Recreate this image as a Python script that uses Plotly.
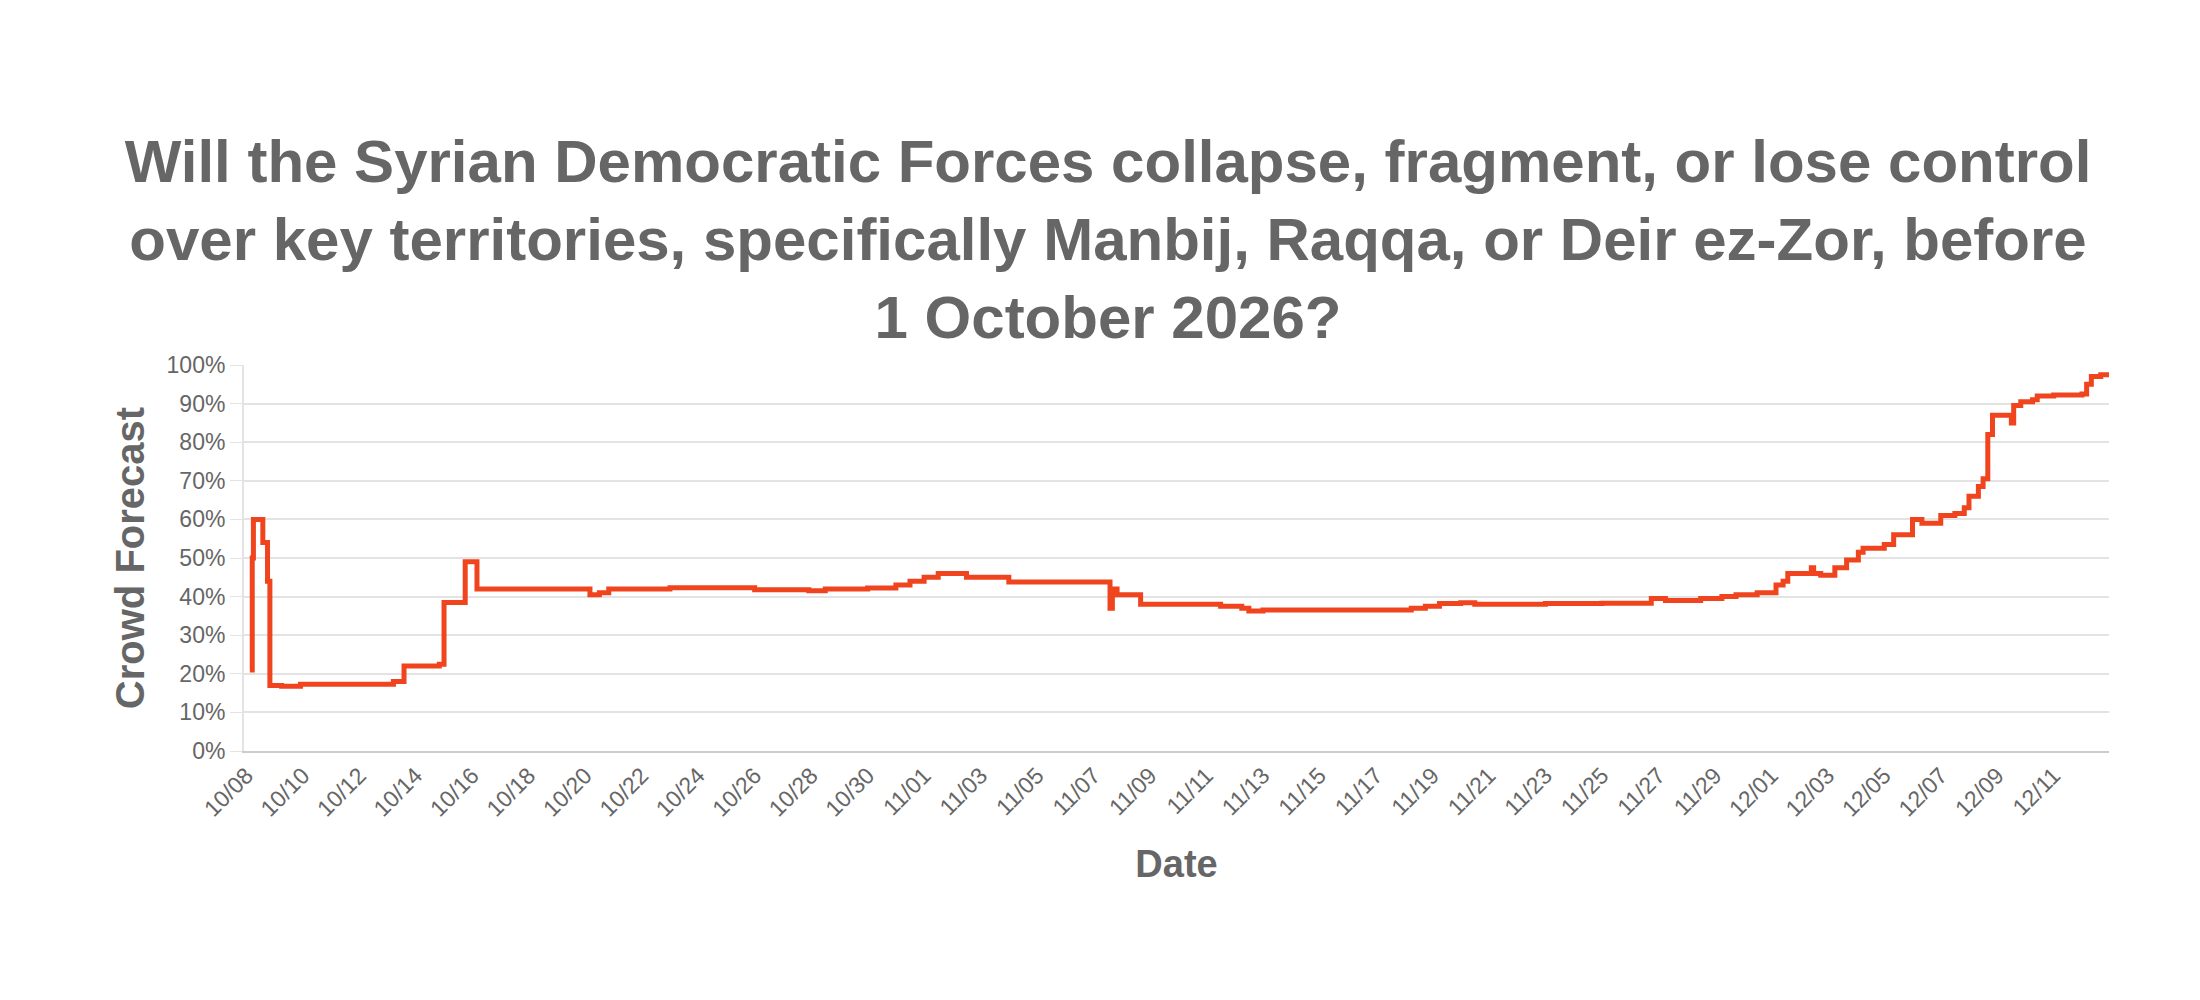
import plotly.graph_objects as go

# Crowd forecast step series (timestamps, percent)
dates = [
    '2025-10-08 03:00', '2025-10-08 05:00', '2025-10-08 06:00', '2025-10-08 14:00', '2025-10-08 18:00',
    '2025-10-08 20:00', '2025-10-09 06:00', '2025-10-09 22:00', '2025-10-13 05:00', '2025-10-13 14:00',
    '2025-10-14 20:00', '2025-10-15 00:00', '2025-10-15 18:00', '2025-10-16 04:00', '2025-10-20 04:00',
    '2025-10-20 12:00', '2025-10-20 20:00', '2025-10-23 00:00', '2025-10-26 00:00', '2025-10-27 22:00',
    '2025-10-28 12:00', '2025-10-30 00:00', '2025-10-31 00:00', '2025-10-31 12:00', '2025-11-01 00:00',
    '2025-11-01 12:00', '2025-11-02 12:00', '2025-11-04 00:00', '2025-11-07 12:00', '2025-11-07 14:00',
    '2025-11-07 16:00', '2025-11-07 20:00', '2025-11-08 16:00', '2025-11-11 12:00', '2025-11-12 06:00',
    '2025-11-12 12:00', '2025-11-13 00:00', '2025-11-18 06:00', '2025-11-18 18:00', '2025-11-19 06:00',
    '2025-11-20 00:00', '2025-11-20 12:00', '2025-11-23 00:00', '2025-11-25 00:00', '2025-11-26 18:00',
    '2025-11-27 06:00', '2025-11-28 12:00', '2025-11-29 06:00', '2025-11-29 18:00', '2025-11-30 12:00',
    '2025-12-01 04:00', '2025-12-01 10:00', '2025-12-01 14:00', '2025-12-02 10:00', '2025-12-02 12:00',
    '2025-12-02 18:00', '2025-12-03 06:00', '2025-12-03 16:00', '2025-12-04 02:00', '2025-12-04 06:00',
    '2025-12-05 00:00', '2025-12-05 08:00', '2025-12-06 00:00', '2025-12-06 08:00', '2025-12-07 00:00',
    '2025-12-07 12:00', '2025-12-07 20:00', '2025-12-08 00:00', '2025-12-08 08:00', '2025-12-08 12:00',
    '2025-12-08 16:00', '2025-12-08 20:00', '2025-12-09 12:00', '2025-12-09 14:00', '2025-12-09 20:00',
    '2025-12-10 06:00', '2025-12-10 10:00', '2025-12-11 00:00', '2025-12-12 00:00', '2025-12-12 04:00',
    '2025-12-12 08:00', '2025-12-12 16:00', '2025-12-12 23:00',
]
forecast = [
    21, 50, 60, 54, 44,
    17, 16.8, 17.3, 18, 22,
    22.5, 38.5, 49, 42, 40.5,
    41, 42, 42.3, 41.8, 41.5,
    42, 42.2, 43, 44, 45,
    46, 45, 43.8, 43.8, 37,
    42, 40.5, 38, 37.5, 37,
    36.3, 36.5, 37, 37.5, 38.2,
    38.4, 38, 38.2, 38.3, 39.5,
    39, 39.5, 40, 40.5, 41,
    43, 44, 46, 47.5, 46,
    45.5, 47.5, 49.5, 51.5, 52.5,
    53.5, 56, 60, 59, 61,
    61.5, 63, 66, 68.5, 70.5,
    82, 87, 85, 89.5, 90.5,
    91, 92, 92.2, 92.5, 95,
    97, 97.5, 98,
]
forecast = [v / 100 for v in forecast]

title = ('Will the Syrian Democratic Forces collapse, fragment, or lose control<br>'
         'over key territories, specifically Manbij, Raqqa, or Deir ez-Zor, before<br>'
         '1 October 2026?')

grey = '#666666'
font_family = 'Liberation Sans, Arial, sans-serif'

fig = go.Figure(go.Scatter(
    x=dates, y=forecast, mode='lines', line_shape='hv',
    line=dict(color='#F0441E', width=5), showlegend=False,
))

fig.update_layout(
    width=2200, height=1000,
    paper_bgcolor='white', plot_bgcolor='white',
    margin=dict(l=236, r=99, t=357, b=257),
    font=dict(family=font_family, color=grey),
    title=dict(text='<b>' + title + '</b>', x=0.5, xanchor='center', y=0.826, yanchor='middle',
               font=dict(size=60, color=grey, family=font_family)),
    xaxis=dict(
        title=dict(text='<b>Date</b>', font=dict(size=38, color=grey), standoff=30),
        type='date', range=['2025-10-07 22:00', '2025-12-12 23:00'],
        tickformat='%m/%d', dtick=2 * 86400000, tick0='2025-10-08',
        tickangle=-45, tickfont=dict(size=23, color=grey),
        showgrid=False, showline=True, linecolor='#cccccc', linewidth=2,
        ticks='', ticklen=0,
    ),
    yaxis=dict(
        title=dict(text='<b>Crowd Forecast</b>', font=dict(size=40, color=grey), standoff=10),
        range=[0, 1], dtick=0.1, tickformat='.0%', tickfont=dict(size=23, color=grey),
        showgrid=True, gridcolor='#e3e3e3', gridwidth=2,
        showline=True, linecolor='#e3e3e3', linewidth=2,
        ticks='outside', ticklen=12, tickcolor='#e3e3e3', zeroline=False,
    ),
)

fig.write_html('out.html')
